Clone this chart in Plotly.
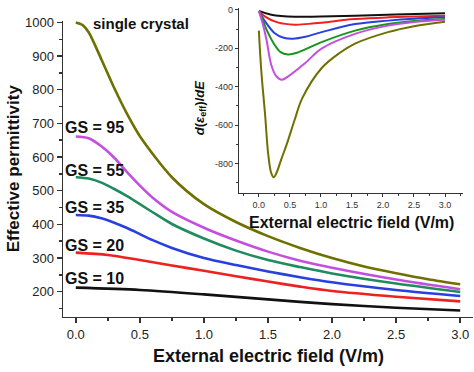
import plotly.graph_objects as go

W, H = 474, 372

# ---------------- main panel data (Effective permittivity vs field) ----------------
sc_x = [0, 0.05, 0.1, 0.2, 0.3, 0.4, 0.5, 0.75, 1.0, 1.25, 1.5, 1.75, 2.0, 2.25, 2.5, 2.75, 3.0]
sc_y = [1000, 993, 971, 890, 805, 728, 662, 540, 460, 407, 365, 330, 300, 275, 255, 237, 222]

gs95_x = [0, 0.1, 0.2, 0.3, 0.4, 0.5, 0.6, 0.75, 1.0, 1.25, 1.5, 1.75, 2.0, 2.5, 3.0]
gs95_y = [661, 656, 632, 598, 555, 515, 479, 437, 390, 352, 319, 292, 271, 236, 207]

gs55_x = [0, 0.1, 0.2, 0.3, 0.4, 0.5, 0.6, 0.75, 1.0, 1.25, 1.5, 1.75, 2.0, 2.5, 3.0]
gs55_y = [540, 536, 524, 505, 484, 460, 436, 401, 358, 322, 294, 273, 254, 224, 199]

gs35_x = [0, 0.1, 0.2, 0.3, 0.4, 0.5, 0.6, 0.75, 1.0, 1.25, 1.5, 1.75, 2.0, 2.5, 3.0]
gs35_y = [428, 426, 418, 405, 389, 371, 353, 330, 300, 279, 260, 243, 228, 205, 187]

gs20_x = [0, 0.25, 0.5, 0.75, 1.0, 1.25, 1.5, 1.75, 2.0, 2.5, 3.0]
gs20_y = [316, 309, 294, 278, 262, 246, 230, 215, 202, 185, 171]

gs10_x = [0, 0.5, 1.0, 1.5, 2.0, 2.5, 3.0]
gs10_y = [212, 205, 192, 177, 163, 152, 144]

# ---------------- inset data (d(eps_eff)/dE vs field) ----------------
d_sc_x = [0.0, 0.04, 0.1, 0.15, 0.2, 0.24, 0.29, 0.36, 0.45, 0.58, 0.7, 1.01, 1.3, 1.55, 2.08, 2.5, 3.0]
d_sc_y = [-108, -321, -544, -749, -851, -872, -845, -780, -700, -570, -460, -304, -225, -176, -116, -85, -62]

d95_x = [0, 0.06, 0.12, 0.2, 0.28, 0.37, 0.48, 0.74, 1.01, 1.55, 2.08, 2.5, 3.0]
d95_y = [-5, -70, -150, -287, -345, -364, -345, -279, -202, -125, -82, -63, -51]

d55_x = [0, 0.06, 0.12, 0.25, 0.35, 0.47, 0.6, 1.01, 1.55, 2.08, 2.5, 3.0]
d55_y = [-5, -50, -100, -180, -220, -232, -225, -168, -108, -74, -58, -48]

d35_x = [0, 0.1, 0.25, 0.4, 0.55, 0.75, 1.01, 1.55, 2.08, 2.5, 3.0]
d35_y = [-5, -60, -120, -145, -150, -140, -116, -74, -56, -46, -39]

d20_x = [0, 0.1, 0.3, 0.58, 0.9, 1.55, 2.08, 3.0]
d20_y = [-5, -35, -65, -77, -70, -48, -39, -31]

d10_x = [0, 0.2, 0.58, 1.0, 1.55, 2.2, 3.0]
d10_y = [-5, -25, -36, -34, -31, -24, -17]

# ---------------- labels / ticks ----------------
main_yticks = [200, 300, 400, 500, 600, 700, 800, 900, 1000]
main_xticks = [0.0, 0.5, 1.0, 1.5, 2.0, 2.5, 3.0]
inset_yticks = [0, -200, -400, -600, -800]
inset_yticktext = ["0", "-200", "-400", "-600", "-800"]
curve_labels = ["single crystal", "GS = 95", "GS = 55", "GS = 35", "GS = 20", "GS = 10"]

OLIVE = "#6e7000"
MAG = "#c44ee0"
TEAL = "#1e8c5e"
BLUE = "#2a3fe0"
RED = "#ee2020"
BLACK = "#111111"
INSET_GREEN = "#18941e"


def px(x, y):
    return x / W, 1 - y / H


fig = go.Figure()

main_series = [
    (sc_x, sc_y, OLIVE), (gs95_x, gs95_y, MAG), (gs55_x, gs55_y, TEAL),
    (gs35_x, gs35_y, BLUE), (gs20_x, gs20_y, RED), (gs10_x, gs10_y, BLACK),
]
for xs, ys, c in main_series:
    fig.add_trace(go.Scatter(x=xs, y=ys, mode="lines",
                             line=dict(color=c, width=2.6, shape="spline", smoothing=0.8),
                             xaxis="x", yaxis="y", showlegend=False, hoverinfo="skip"))

inset_series = [
    (d10_x, d10_y, BLACK), (d20_x, d20_y, RED), (d35_x, d35_y, BLUE),
    (d55_x, d55_y, INSET_GREEN), (d95_x, d95_y, MAG), (d_sc_x, d_sc_y, OLIVE),
]
for xs, ys, c in inset_series:
    fig.add_trace(go.Scatter(x=xs, y=ys, mode="lines",
                             line=dict(color=c, width=2.0, shape="spline", smoothing=1.0),
                             xaxis="x2", yaxis="y2", showlegend=False, hoverinfo="skip"))

axis_common = dict(showgrid=False, zeroline=False, showline=True, linecolor="#333333",
                   linewidth=1.5, ticks="outside", tickcolor="#333333")

fig.update_layout(
    width=W, height=H,
    margin=dict(l=0, r=0, t=0, b=0),
    paper_bgcolor="white", plot_bgcolor="rgba(0,0,0,0)",
    font=dict(family="Liberation Sans, Arial, sans-serif", color="#222222"),
    hovermode=False,
    xaxis=dict(**axis_common, domain=[63 / W, 473 / W], range=[-0.1, 3.1],
               tickvals=main_xticks, tickformat=".1f", ticklen=5, tickwidth=1.5,
               tickfont=dict(size=13, color="#222222"), anchor="y",
               minor=dict(ticks="outside", ticklen=3, dtick=0.25, tick0=0, tickcolor="#333333")),
    yaxis=dict(**axis_common, domain=[1 - 316 / H, 1 - 15 / H], range=[125, 1005],
               tickvals=main_yticks, ticklen=5, tickwidth=1.5,
               tickfont=dict(size=13, color="#222222"), anchor="x",
               minor=dict(ticks="outside", ticklen=3, dtick=50, tick0=0, tickcolor="#333333")),
    xaxis2=dict(**axis_common, domain=[239 / W, 463 / W], range=[-0.32, 3.29],
                tickvals=main_xticks, tickformat=".1f", ticklen=3, tickwidth=1,
                tickfont=dict(size=9, color="#333333"), anchor="y2",
                minor=dict(ticks="outside", ticklen=2, dtick=0.25, tick0=0, tickcolor="#333333")),
    yaxis2=dict(**axis_common, domain=[1 - 190 / H, 1 - 2 / H], range=[-954, 10],
                tickvals=inset_yticks, ticktext=inset_yticktext, ticklen=3, tickwidth=1,
                tickfont=dict(size=9, color="#333333"), anchor="x2",
                minor=dict(ticks="outside", ticklen=2, dtick=100, tick0=0, tickcolor="#333333")),
)
fig.update_layout(xaxis2_linewidth=1.2, yaxis2_linewidth=1.2)

ann = []
# axis titles
x0, y0 = px(268, 356)
ann.append(dict(x=x0, y=y0, text="<b>External electric field (V/m)</b>", showarrow=False,
                font=dict(size=18, color="#111111"), xanchor="center", yanchor="middle"))
x0, y0 = px(13, 165)
ann.append(dict(x=x0, y=y0, text="<b>Effective permittivity</b>", showarrow=False, textangle=-90,
                font=dict(size=17, color="#111111"), xanchor="center", yanchor="middle"))
x0, y0 = px(351, 220)
ann.append(dict(x=x0, y=y0, text="<b>External electric field (V/m)</b>", showarrow=False,
                font=dict(size=16, color="#111111"), xanchor="center", yanchor="middle"))
x0, y0 = px(200, 104)
ann.append(dict(x=x0, y=y0, text="<b><i>d</i>(<i>ε</i><sub>eff</sub>)/<i>dE</i></b>", showarrow=False,
                textangle=-90, font=dict(size=13, color="#111111"), xanchor="center", yanchor="middle"))
# curve labels
label_pos = [(91, 18), (63, 123), (63, 167), (63, 205), (63, 243), (63, 277)]
label_size = [15, 16, 16, 16, 16, 16]
for t, (lx, ly), s in zip(curve_labels, label_pos, label_size):
    x0, y0 = px(lx, ly)
    ann.append(dict(x=x0, y=y0, text="<b>" + t + "</b>", showarrow=False,
                    font=dict(size=s, color="#111111"), xanchor="left", yanchor="middle"))
for a in ann:
    a.update(xref="paper", yref="paper")
fig.update_layout(annotations=ann)

fig.write_html("out.html", config={"displayModeBar": False, "staticPlot": True},
               post_script="document.body.style.margin='0';")
